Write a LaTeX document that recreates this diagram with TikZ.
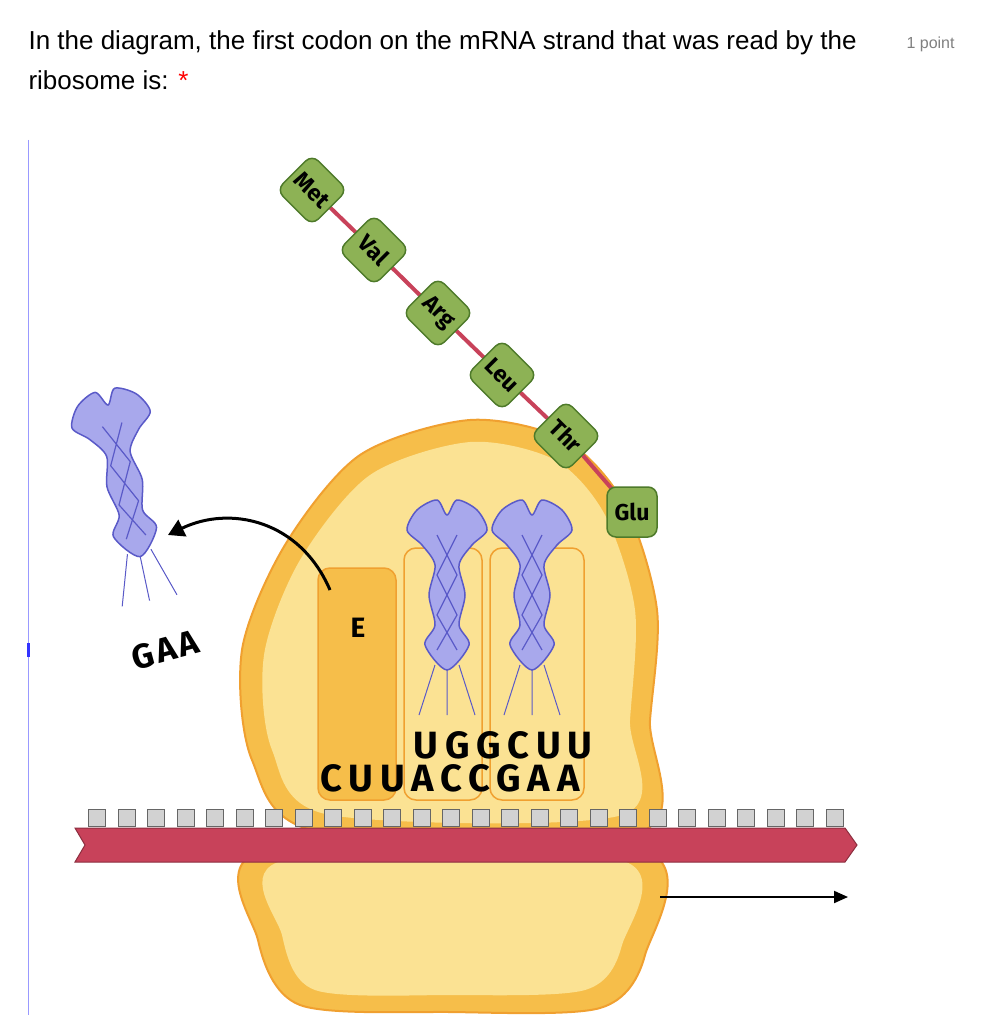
\documentclass[tikz,border=0pt]{standalone}
\usepackage{fontspec}
\setmainfont{Liberation Sans}
\newfontfamily\lab{Fira Sans}
\usetikzlibrary{arrows.meta}
\definecolor{orO}{HTML}{F0A030}
\definecolor{orF}{HTML}{F6BE4A}
\definecolor{orL}{HTML}{FBE293}
\definecolor{lav}{HTML}{A8A8EC}
\definecolor{lavD}{HTML}{5A5AC8}
\definecolor{grn}{HTML}{8DB255}
\definecolor{grnD}{HTML}{4E7A2A}
\definecolor{mred}{HTML}{C8425A}
\tikzset{
 aa/.style={draw=grnD,fill=grn,rounded corners=9pt,minimum size=50pt,inner sep=0pt,line width=1.5pt,font=\lab\bfseries\fontsize{23}{23}\selectfont},
 base/.style={font=\lab\bfseries\fontsize{38}{38}\selectfont\addfontfeature{LetterSpace=18},inner sep=0pt},
 sq/.style={draw=gray!80!black,fill=gray!35,minimum size=17pt,inner sep=0pt,line width=1pt},
 trn/.style={fill=lav,draw=lavD,line width=1.5pt}
}
\newcommand{\mytrna}[3]{%
\begin{scope}[shift={(#1,#2)},rotate=#3]
 \draw[trn] plot[smooth cycle] coordinates {(-30,-5)(-40,15)(-25,30)(-12,50)(-18,80)(-12,110)(-22,130)(0,155)(22,130)(12,110)(18,80)(12,50)(25,30)(40,15)(30,-5)(10,-15)(0,0)(-10,-15)};
 \draw[lavD,line width=1.2pt] (-10,20)--(10,60)--(-10,100)--(10,135) (10,20)--(-10,60)--(10,100)--(-10,135);
 \draw[lavD,line width=1pt] (-12,150)--(-28,200) (0,155)--(0,200) (12,150)--(28,200);
\end{scope}}
\begin{document}
\begin{tikzpicture}[x=1pt,y=-1pt]
\useasboundingbox (0,0) rectangle (989,1024);
\fill[white] (0,0) rectangle (989,1024);
\node[anchor=west,font=\fontsize{26}{26}\selectfont] (t1) at (25,43) {In the diagram, the first codon on the mRNA strand that was read by the};
\node[anchor=west,font=\fontsize{26}{26}\selectfont] (t2) at (25,80) {ribosome is: \textcolor{red}{*}};
\node[anchor=west,font=\fontsize{16}{16}\selectfont,text=gray] (pt) at (903,44) {1 point};
\draw[blue!40,line width=1pt] (28,140)--(28,1015);
\draw[blue!80,line width=3pt] (28,643)--(28,657);
% small subunit
\draw[fill=orF,draw=orO,line width=2pt] plot[smooth cycle] coordinates {(265,850)(258,940)(300,1005)(450,1012)(600,1008)(645,955)(642,850)};
\fill[orL] plot[smooth cycle] coordinates {(285,860)(282,935)(315,990)(450,995)(585,990)(622,945)(620,860)};
% large subunit
\draw[fill=orF,draw=orO,line width=2pt] plot[smooth cycle] coordinates {(320,832)(252,760)(242,650)(285,545)(360,455)(470,420)(565,440)(625,505)(657,610)(650,720)(640,832)};
\fill[orL] plot[smooth cycle] coordinates {(330,815)(272,750)(264,655)(300,560)(370,475)(470,442)(555,460)(605,515)(635,610)(630,720)(622,815)};
\draw[fill=orF,draw=orO,line width=1.5pt,rounded corners=12pt] (318,568) rectangle (396,800);
\draw[fill=orL,draw=orO,line width=1.5pt,rounded corners=12pt] (404,548) rectangle (482,800);
\draw[fill=orL,draw=orO,line width=1.5pt,rounded corners=12pt] (490,548) rectangle (584,800);
\node[font=\lab\bfseries\fontsize{28}{28}\selectfont] (E) at (358,628) {E};
% tRNAs
\mytrna{447}{515}{0}
\mytrna{532}{515}{0}
\mytrna{108}{405}{12}
\node[base] (ac1) at (503,745) {UGGCUU};
\node[base] (c1) at (450,778) {CUUACCGAA};
\node[base,rotate=15,font=\lab\bfseries\fontsize{34}{34}\selectfont\addfontfeature{LetterSpace=8}] (gaa) at (165,650) {GAA};
% chain
\coordinate (pm) at (312,190);
\coordinate (pv) at (374,250);
\coordinate (pa) at (438,313);
\coordinate (pl) at (502,375);
\coordinate (pt2) at (566,436);
\coordinate (pg) at (632,512);
\draw[mred,line width=4pt] (pm)--(pv)--(pa)--(pl)--(pt2)--(pg);
\node[aa,rotate=-45] (met) at (pm) {Met};
\node[aa,rotate=-45] (val) at (pv) {Val};
\node[aa,rotate=-45] (arg) at (pa) {Arg};
\node[aa,rotate=-45] (leu) at (pl) {Leu};
\node[aa,rotate=-45] (thr) at (pt2) {Thr};
\node[aa] (glu) at (pg) {Glu};
% mRNA
\foreach \i in {0,...,25}{\node[sq] (s\i) at (97+29.5*\i,818) {};}
\draw[fill=mred,draw=mred!70!black,line width=1pt] (75,828)--(845,828)--(857,845)--(845,862)--(75,862)--(85,845)--cycle;
% arrows
\coordinate (a0) at (330,590);
\coordinate (a1) at (168,535);
\draw[line width=3pt,-{Triangle[length=16pt,width=18pt]}] (a0) .. controls (300,520) and (230,505) .. (a1);
\coordinate (b0) at (660,897);
\coordinate (b1) at (848,897);
\draw[line width=2pt,-{Triangle[length=14pt,width=12pt]}] (b0)--(b1);
\end{tikzpicture}
\end{document}
